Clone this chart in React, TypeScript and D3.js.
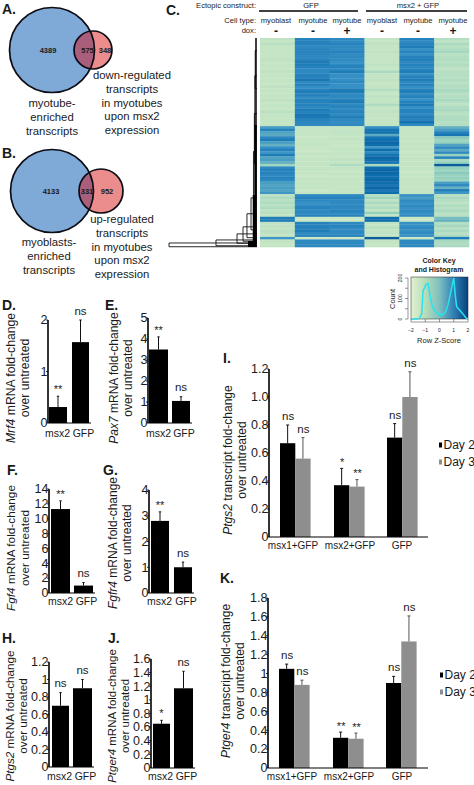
import React from "react";
import * as d3 from "d3";

const FONT = "'Liberation Sans', Arial, sans-serif";
const INK = "#1a1a1a";

// ---------- Venn data ----------
const vennA = { big: 4389, overlap: 575, small: 348 };
const vennB = { big: 4133, overlap: 331, small: 952 };
const vennALeft = ["myotube-", "enriched", "transcripts"];
const vennARight = ["down-regulated", "transcripts", "in myotubes", "upon msx2", "expression"];
const vennBLeft = ["myoblasts-", "enriched", "transcripts"];
const vennBRight = ["up-regulated", "transcripts", "in myotubes", "upon msx2", "expression"];

// ---------- Heatmap data ----------
const cellTypes = ["myoblast", "myotube", "myotube", "myoblast", "myotube", "myotube"];
const doxLabels = ["-", "-", "+", "-", "-", "+"];
const heatRows: number[][] = [
  // block 1
  [-0.8, 1.2, 1.1, -0.9, 1.2, -0.6], [-0.9, 1.2, 1.1, -0.9, 1.1, -0.8], [-0.7, 1.2, 1.2, -0.8, 1.2, -0.4],
  [-0.9, 1.1, 1.1, -0.9, 1.3, -0.7], [-0.9, 1.2, 1.1, -0.9, 1.0, -0.5], [-0.9, 1.2, 1.2, -0.8, 1.2, -0.3],
  [-0.9, 1.2, 1.1, -0.9, 1.0, -0.7], [-0.9, 1.1, 1.1, -0.9, 1.2, -0.6], [-0.8, 1.2, 1.1, -0.9, 1.3, -0.5],
  [-0.9, 1.3, 1.0, -0.9, 1.1, -0.7], [-0.9, 1.3, 1.1, -0.8, 1.2, -0.5], [-0.9, 1.2, 1.2, -0.9, 1.1, -0.7],
  [-0.9, 1.1, 1.1, -0.9, 1.2, -0.8], [-0.8, 1.1, 1.3, -0.4, 1.3, -0.6], [-0.9, 1.2, 1.0, -0.9, 1.0, -0.6],
  [-0.9, 1.2, 1.0, -0.9, 1.2, -0.7], [-0.9, 1.4, 1.0, -0.8, 1.3, -0.5], [-0.9, 1.1, 1.1, -0.9, 1.1, -0.7],
  [-0.9, 1.2, 1.0, -0.9, 1.2, -0.6], [-0.8, 1.0, 1.0, -0.9, 1.0, -0.6], [-0.9, 1.2, 1.3, -0.6, 1.2, -0.4],
  [-0.9, 1.3, 1.3, -0.9, 1.3, -0.5], [-0.9, 1.2, 1.1, -0.9, 1.1, -0.7], [-0.9, 1.1, 1.1, -0.8, 1.2, -0.6],
  [-0.8, 1.2, 1.2, -0.9, 1.0, -0.4], [-0.9, 1.2, 1.3, -0.9, 1.2, -0.6], [-0.9, 1.2, 1.1, -0.5, 1.3, -0.8],
  [-0.9, 1.1, 1.2, -0.9, 1.0, -0.5], [-0.9, 1.3, 1.1, -0.9, 1.2, -0.4], [-0.7, 1.2, 1.2, -0.8, 1.2, -0.6],
  [-0.9, 1.4, 1.1, -0.9, 1.1, -0.7], [-0.9, 1.4, 1.3, -0.9, 1.3, -0.5], [-0.9, 1.2, 1.1, -0.9, 1.2, -0.5],
  [-0.9, 1.2, 1.1, -0.9, 1.5, -0.6], [-0.9, 1.1, 1.1, -0.9, 1.1, -0.6],
  // block 2
  [0.8, -0.9, -0.9, 1.0, -0.9, 0.5], [1.2, -0.9, -0.9, 1.4, -0.9, 0.8], [0.7, -0.9, -0.8, 1.5, -0.9, 1.2],
  [0.6, -0.9, -0.9, 0.6, -0.9, 1.4], [1.1, -1.0, -0.9, 1.4, -0.9, 0.1], [1.3, -0.9, -0.9, 1.5, -0.9, -0.2],
  [0.8, -0.9, -0.9, 1.6, -0.9, 0.0], [0.5, -0.9, -1.0, 1.5, -0.9, 0.7], [1.0, -0.9, -0.9, 0.9, -0.9, 1.1],
  [1.2, -1.0, -0.9, 1.5, -0.9, 0.6], [0.9, -0.9, -0.9, 1.1, -1.0, 1.1], [1.3, -0.9, -0.9, 1.4, -0.9, -0.1],
  [0.7, -0.9, -0.9, 1.6, -0.9, 1.2], [0.8, -0.9, -0.8, 1.5, -0.9, -0.4], [0.5, -0.9, -0.9, 1.4, -0.9, 0.0],
  [-0.2, -0.9, -0.5, -0.4, -0.9, 1.7], [1.1, -0.9, -0.9, 1.5, -0.9, 0.0], [1.2, -0.9, -0.9, 1.6, -0.9, -0.2],
  [1.2, -0.9, -0.9, 1.6, -1.0, 0.1], [1.1, -1.0, -0.9, 1.5, -0.9, -0.1], [1.2, -0.9, -0.9, 1.5, -0.9, 0.0],
  [1.1, -0.9, -0.9, 1.6, -0.9, -0.2], [0.8, -0.9, -0.9, 1.5, -0.9, 0.8], [0.7, -0.9, -0.9, 1.4, -0.9, 1.1],
  [0.8, -0.9, -0.9, 1.6, -0.9, 0.5], [0.7, -1.0, -0.9, 1.4, -0.9, 1.3], [0.9, -0.9, -0.9, 1.5, -0.9, 0.9],
  // block 3
  [-0.8, 1.1, 1.1, -0.7, 1.0, -0.7], [-0.5, 1.2, 1.2, -0.2, 0.8, -0.4], [-0.7, 1.1, 1.1, -0.8, 1.1, -0.6],
  [-0.5, 1.0, 1.1, -0.4, 1.0, -0.8], [-0.7, 1.1, 1.1, -0.8, 1.1, -0.5], [-0.5, 1.2, 1.1, -0.5, 1.0, -0.7],
  [-0.8, 1.1, 1.2, -0.9, 1.1, -0.4], [-0.7, 1.1, 1.1, 0.0, 1.0, -0.7], [-0.9, 1.2, 1.2, -0.9, 1.1, -0.7],
  // block 4
  [1.3, -1.0, -1.0, 1.5, -1.0, 0.3], [1.3, -1.0, -1.0, 1.5, -1.0, 0.5],
  // block 5
  [-0.8, 1.2, 1.1, -0.8, 1.0, -0.6], [-0.8, 1.2, 1.2, -0.9, 1.0, -0.3], [-0.9, 1.2, 1.1, -0.7, 1.1, -0.7],
  [-0.7, 1.3, 1.1, -0.9, 1.0, -0.4], [-0.8, 1.1, 1.1, -0.8, 1.1, -0.7], [-0.9, 1.2, 1.2, -0.9, 1.0, -0.4],
  // block 6
  [0.9, -1.0, -1.0, 1.7, -1.0, 1.3],
  // block 7
  [-0.9, 1.1, 1.1, -0.9, 1.1, -0.4], [-0.9, 1.1, 1.1, -0.9, 1.1, -0.5], [-0.9, 1.1, 1.1, -0.9, 1.1, -0.4],
];
const heatStops = [-2, -1, 0, 1, 1.5, 2];
const heatColors = ["#e4f3d6", "#c9e7c5", "#93d0bd", "#3590c5", "#0f6eae", "#07457f"];

// Dendrogram merges: height (0 = leaves, 1 = root), top row, bottom row (row index units)
const dendroHeights = [1, 0.466, 0.227, 0.159, 0.114, 0.068, 0.04, 0.03, 0.025, 0.02];
const dendroTops = [81.4, 80.2, 77.8, 75, 69.8, 63.5, 45, 30, 15, 5];
const dendroBottoms = [82.9, 82.5, 81.5, 80.7, 79.3, 76.2, 66, 50, 35, 20];

// Color key histogram
const histZ = [-2, -1.6, -1.4, -1.25, -1.15, -1.05, -0.95, -0.8, -0.65, -0.5, -0.25, 0, 0.2, 0.4, 0.6, 0.78, 0.9, 1, 1.1, 1.2, 1.5, 1.7, 1.85, 2];
const histCount = [0, 0, 3, 25, 140, 150, 170, 172, 110, 60, 32, 20, 22, 30, 70, 127, 170, 200, 120, 60, 37, 20, 5, 0];
const keyStops = ["#e1f1d0", "#b7dcb8", "#7dbfc0", "#2f7fb5", "#06427f"];

// ---------- Small bars ----------
const smallCats = ["msx2", "GFP"];
const mrf4 = [0.31, 1.57];
const mrf4Err = [0.52, 2.0];
const pax7 = [3.5, 1.05];
const pax7Err = [4.1, 1.25];
const fgf4 = [11.3, 1.0];
const fgf4Err = [12.4, 1.4];
const fgfr4 = [2.8, 1.0];
const fgfr4Err = [3.15, 1.2];
const ptgs2Small = [0.7, 0.9];
const ptgs2SmallErr = [0.85, 1.0];
const ptger4Small = [0.65, 1.17];
const ptger4SmallErr = [0.7, 1.42];

// ---------- Grouped bars ----------
const groupCats = ["msx1+GFP", "msx2+GFP", "GFP"];
const legendDays = ["Day 29", "Day 36"];
const ptgs2D29 = [0.67, 0.37, 0.71];
const ptgs2D29Err = [0.8, 0.49, 0.81];
const ptgs2D36 = [0.56, 0.36, 1.0];
const ptgs2D36Err = [0.71, 0.41, 1.18];
const ptger4D29 = [1.05, 0.32, 0.9];
const ptger4D29Err = [1.1, 0.38, 0.97];
const ptger4D36 = [0.88, 0.31, 1.34];
const ptger4D36Err = [0.93, 0.37, 1.61];

function Txt(p: any) {
  const { size = 11.5, anchor = "middle", weight, children, x, y, fill = INK, rotate, style } = p;
  return (
    <text
      x={x}
      y={y}
      fontSize={size}
      textAnchor={anchor}
      fontWeight={weight}
      fill={fill}
      fontFamily={FONT}
      transform={rotate ? `rotate(${rotate} ${x} ${y})` : undefined}
      style={style}
    >
      {children}
    </text>
  );
}

function Venn(p: any) {
  const { id, cx1, r1, cx2, r2, cy, values, nx } = p;
  return (
    <g>
      <defs>
        <clipPath id={id}>
          <circle cx={cx1} cy={cy} r={r1} />
        </clipPath>
      </defs>
      <circle cx={cx1} cy={cy} r={r1} fill="#7fa9d6" />
      <circle cx={cx2} cy={cy} r={r2} fill="#ec8d8d" />
      <circle cx={cx2} cy={cy} r={r2} fill="#a95f7c" clipPath={`url(#${id})`} />
      <circle cx={cx1} cy={cy} r={r1} fill="none" stroke="#0c0c14" strokeWidth={1.7} />
      <circle cx={cx2} cy={cy} r={r2} fill="none" stroke="#0c0c14" strokeWidth={1.7} />
      <Txt x={nx[0]} y={cy + 2.5} size={7.5} weight="bold">{values.big}</Txt>
      <Txt x={nx[1]} y={cy + 2.5} size={7.5} weight="bold">{values.overlap}</Txt>
      <Txt x={nx[2]} y={cy + 2.5} size={7.5} weight="bold">{values.small}</Txt>
    </g>
  );
}

function Lines(p: any) {
  const { lines, x, y, step = 13.8, size = 11.3 } = p;
  return (
    <g>
      {lines.map((l: string, i: number) => (
        <Txt key={i} x={x} y={y + i * step} size={size}>{l}</Txt>
      ))}
    </g>
  );
}

function Heatmap() {
  const x = d3.scaleBand<number>().domain(d3.range(6)).range([260, 469]);
  const y = d3.scaleBand<number>().domain(d3.range(heatRows.length)).range([38, 247]);
  const color = d3.scaleLinear<string>().domain(heatStops).range(heatColors).clamp(true);
  const dy = d3.scaleLinear().domain([0, heatRows.length]).range([38, 247]);
  const dx = d3.scaleLinear().domain([0, 1]).range([257, 169]);
  const h = y.bandwidth();
  const path = d3.path();
  dendroHeights.forEach((v, i) => {
    const top = dy(dendroTops[i]);
    const bot = dy(dendroBottoms[i]);
    const xx = dx(v);
    path.moveTo(257, top);
    path.lineTo(xx, top);
    path.lineTo(xx, bot);
    path.lineTo(257, bot);
  });
  const centers = [276, 313, 347, 382, 418, 453];
  return (
    <g>
      <g style={{ filter: "blur(0.45px)" }}>
        {heatRows.map((row, r) =>
          row.map((v, c) => (
            <rect key={`${r}-${c}`} x={x(c)} y={y(r)} width={x.bandwidth() + 0.3} height={h + 0.3} fill={color(v)} />
          ))
        )}
      </g>
      <path d={path.toString()} fill="none" stroke="#111" strokeWidth={0.9} />
      <line x1={256} x2={256} y1={38} y2={247} stroke="#000" strokeWidth={1.5} />
      <line x1={255.5} x2={255.5} y1={125} y2={247} stroke="#000" strokeWidth={2.5} />
      <line x1={254} x2={254} y1={195} y2={247} stroke="#000" strokeWidth={2.5} />
      <rect x={248} y={241} width={8} height={6} fill="#000" />

      <Txt x={256} y={8} size={7.6} anchor="end">Ectopic construct:</Txt>
      <Txt x={256} y={23} size={7.6} anchor="end">Cell type:</Txt>
      <Txt x={256} y={33} size={7.6} anchor="end">dox:</Txt>
      <line x1={259} x2={358} y1={11} y2={11} stroke="#000" strokeWidth={1.6} />
      <line x1={366} x2={467} y1={11} y2={11} stroke="#000" strokeWidth={1.6} />
      <Txt x={311} y={8} size={7.6}>GFP</Txt>
      <Txt x={418} y={8} size={7.6}>msx2 + GFP</Txt>
      {cellTypes.map((c, i) => (
        <Txt key={i} x={centers[i]} y={23} size={7.6}>{c}</Txt>
      ))}
      {doxLabels.map((c, i) => (
        <Txt key={i} x={centers[i]} y={35} size={12} weight="bold">{c}</Txt>
      ))}
    </g>
  );
}

function ColorKey() {
  const x = d3.scaleLinear().domain([-2, 2]).range([411, 468]);
  const y = d3.scaleLinear().domain([0, 200]).range([319, 278]);
  const line = d3.line<number>().x((d) => x(d)).y((_, i) => y(histCount[i]));
  return (
    <g>
      <defs>
        <linearGradient id="keyGrad">
          {keyStops.map((c, i) => (
            <stop key={i} offset={`${(i / (keyStops.length - 1)) * 100}%`} stopColor={c} />
          ))}
        </linearGradient>
      </defs>
      <Txt x={439} y={262.5} size={7} weight="bold">Color Key</Txt>
      <Txt x={439} y={271.5} size={7} weight="bold">and Histogram</Txt>
      <rect x={411} y={277} width={57} height={42} fill="url(#keyGrad)" stroke="#222" strokeWidth={0.5} />
      <path d={line(histZ) || ""} fill="none" stroke="#27e3ee" strokeWidth={1.5} />
      <line x1={411} x2={468} y1={322} y2={322} stroke="#333" strokeWidth={0.5} />
      {x.ticks(4).map((t) => (
        <g key={t}>
          <line x1={x(t)} x2={x(t)} y1={319} y2={322} stroke="#333" strokeWidth={0.5} />
          <Txt x={x(t)} y={332} size={5}>{t === 0 ? "0" : String(t).replace("-", "\u2212")}</Txt>
        </g>
      ))}
      <line x1={408} x2={408} y1={278} y2={319} stroke="#333" strokeWidth={0.5} />
      {[0, 50, 100, 150, 200].map((t) => (
        <line key={t} x1={405} x2={408} y1={y(t)} y2={y(t)} stroke="#333" strokeWidth={0.5} />
      ))}
      {[0, 100, 200].map((t) => (
        <Txt key={t} x={402} y={y(t)} size={5} rotate={-90}>{t}</Txt>
      ))}
      <Txt x={395} y={299} size={7.5} rotate={-90}>Count</Txt>
      <Txt x={439} y={343} size={7.5}>Row Z-Score</Txt>
    </g>
  );
}

function YTitle(p: any) {
  const { x1, x2, cy, gene, rest, size = 12 } = p;
  return (
    <g>
      <text transform={`translate(${x1} ${cy}) rotate(-90)`} textAnchor="middle" fontSize={size} fontFamily={FONT} fill={INK}>
        <tspan fontStyle="italic">{gene}</tspan> {rest}
      </text>
      <text transform={`translate(${x2} ${cy}) rotate(-90)`} textAnchor="middle" fontSize={size} fontFamily={FONT} fill={INK}>
        over untreated
      </text>
    </g>
  );
}

function SmallBar(p: any) {
  const { letter, lx, ly, ax, top, bottom, max, ticks, tickFmt, vals, errs, sig, bars, title, labelY } = p;
  const y = d3.scaleLinear().domain([0, max]).range([bottom, top]);
  const fmt = tickFmt || String;
  return (
    <g>
      <Txt x={lx} y={ly} size={14} weight="bold" anchor="start">{letter}</Txt>
      <YTitle {...title} />
      {vals.map((v: number, i: number) => {
        const [x0, x1] = bars[i];
        const mid = (x0 + x1) / 2;
        return (
          <g key={i}>
            <rect x={x0} y={y(v)} width={x1 - x0} height={bottom - y(v)} fill="#000" />
            <line x1={mid} x2={mid} y1={y(v)} y2={y(errs[i])} stroke="#111" strokeWidth={1} />
            <line x1={mid - 1.2} x2={mid + 1.2} y1={y(errs[i])} y2={y(errs[i])} stroke="#111" strokeWidth={1} />
            <Txt x={mid} y={sig[i].includes("*") ? y(errs[i]) - 3 : y(errs[i]) - 5.5} size={sig[i].includes("*") ? 11 : 11.5}>{sig[i]}</Txt>
            <Txt x={i === 0 ? x1 - 9.5 : mid + 3} y={labelY} size={10.5}>{smallCats[i]}</Txt>
          </g>
        );
      })}
      <line x1={ax} x2={ax} y1={top} y2={bottom} stroke="#000" strokeWidth={1.6} />
      <line x1={ax} x2={bars[1][1] + 2} y1={bottom} y2={bottom} stroke="#000" strokeWidth={1.2} />
      {ticks.map((t: number) => (
        <g key={t}>
          <line x1={ax - 2} x2={ax} y1={y(t)} y2={y(t)} stroke="#000" strokeWidth={0.8} />
          <Txt x={ax - 0.5} y={y(t) + 4.3} size={12.5} anchor="end">{fmt(t)}</Txt>
        </g>
      ))}
    </g>
  );
}

function GroupBar(p: any) {
  const { letter, lx, ly, ax, top, bottom, max, ticks, tickFmt, d29, d29e, d36, d36e, sig29, sig36, title, labelY, legendY, lgx, starts, labelX } = p;
  const y = d3.scaleLinear().domain([0, max]).range([bottom, top]);
  const x = d3.scaleBand<number>().domain([0, 1]).range([0, 30.6]);
  const w = x.bandwidth();
  const bar = (v: number, e: number, s: string, sx: number, color: string, key: string) => (
    <g key={key}>
      <rect x={sx} y={y(v)} width={w} height={bottom - y(v)} fill={color} />
      <line x1={sx + w / 2} x2={sx + w / 2} y1={y(v)} y2={y(e)} stroke={color === "#000" ? "#111" : "#555"} strokeWidth={1} />
      <line x1={sx + w / 2 - 1.5} x2={sx + w / 2 + 1.5} y1={y(e)} y2={y(e)} stroke={color === "#000" ? "#111" : "#555"} strokeWidth={1} />
      <Txt x={sx + w / 2 + 0.5} y={s.includes("*") ? y(e) - 2.5 : y(e) - 5} size={s.includes("*") ? 11 : 11.5}>{s}</Txt>
    </g>
  );
  return (
    <g>
      <Txt x={lx} y={ly} size={14} weight="bold" anchor="start">{letter}</Txt>
      <YTitle {...title} />
      {groupCats.map((c, i) => (
        <g key={c}>
          {bar(d29[i], d29e[i], sig29[i], starts[i] + (x(0) as number), "#000", "a")}
          {bar(d36[i], d36e[i], sig36[i], starts[i] + (x(1) as number), "#8e8e8e", "b")}
          <Txt x={labelX[i]} y={labelY} size={10}>{c}</Txt>
        </g>
      ))}
      <line x1={ax} x2={ax} y1={top} y2={bottom} stroke="#000" strokeWidth={1.6} />
      <line x1={ax} x2={428} y1={bottom} y2={bottom} stroke="#000" strokeWidth={1.2} />
      {ticks.map((t: number) => (
        <g key={t}>
          <line x1={ax - 2} x2={ax} y1={y(t)} y2={y(t)} stroke="#000" strokeWidth={0.8} />
          <Txt x={ax - 0.5} y={y(t) + 4.3} size={12.5} anchor="end">{tickFmt(t)}</Txt>
        </g>
      ))}
      {legendDays.map((d, i) => (
        <g key={d}>
          <rect x={lgx} y={legendY[i] - 2.5} width={3} height={5} fill={i === 0 ? "#000" : "#8e8e8e"} />
          <Txt x={lgx + 4.5} y={legendY[i] + 4.3} size={12} anchor="start">{d}</Txt>
        </g>
      ))}
    </g>
  );
}

const oneDec = (t: number) => (t === 0 ? "0" : t.toFixed(1));
const trim = (t: number) => String(+t.toFixed(1));

export default function App() {
  return (
    <svg width={474} height={785} viewBox="0 0 474 785" style={{ position: "absolute", left: 0, top: 0, background: "#fff" }}>
      <Txt x={2} y={14} size={14} weight="bold" anchor="start">A.</Txt>
      <Venn id="ca" cx1={52} r1={42.5} cx2={93} r2={19} cy={50} values={vennA} nx={[48, 87.5, 105]} />
      <Lines lines={vennALeft} x={52} y={107} />
      <Lines lines={vennARight} x={132} y={79} />

      <Txt x={2} y={158} size={14} weight="bold" anchor="start">B.</Txt>
      <Venn id="cb" cx1={52} r1={41.5} cx2={101} r2={22} cy={191} values={vennB} nx={[51, 87, 107]} />
      <Lines lines={vennBLeft} x={49} y={246} />
      <Lines lines={vennBRight} x={122} y={223} />

      <Txt x={166} y={15} size={14} weight="bold" anchor="start">C.</Txt>
      <Heatmap />
      <ColorKey />

      <SmallBar letter="D." lx={2} ly={310} ax={48} top={320} bottom={423} max={2} ticks={[0, 1, 2]} vals={mrf4} errs={mrf4Err} sig={["**", "ns"]}
        bars={[[49, 67], [72, 89]]} labelY={437} title={{ x1: 15, x2: 29, cy: 378, gene: "Mrf4", rest: "mRNA fold-change", size: 12.2 }} />
      <SmallBar letter="E." lx={105} ly={310} ax={148} top={318} bottom={423} max={5} ticks={[0, 1, 2, 3, 4, 5]} vals={pax7} errs={pax7Err} sig={["**", "ns"]}
        bars={[[149, 168], [172, 190]]} labelY={437} title={{ x1: 118, x2: 132, cy: 378, gene: "Pax7", rest: "mRNA fold-change" }} />
      <SmallBar letter="F." lx={7} ly={475} ax={49} top={489} bottom={593} max={14} ticks={[0, 2, 4, 6, 8, 10, 12, 14]} vals={fgf4} errs={fgf4Err} sig={["**", "ns"]}
        bars={[[51, 70], [74, 93]]} labelY={605} title={{ x1: 15, x2: 29, cy: 548, gene: "Fgf4", rest: "mRNA fold-change", size: 11.8 }} />
      <SmallBar letter="G." lx={103} ly={475} ax={149} top={490} bottom={593} max={4} ticks={[0, 1, 2, 3, 4]} vals={fgfr4} errs={fgfr4Err} sig={["**", "ns"]}
        bars={[[151, 169], [174, 192]]} labelY={605} title={{ x1: 117, x2: 131, cy: 543, gene: "Fgfr4", rest: "mRNA fold-change" }} />
      <SmallBar letter="H." lx={2} ly={643} ax={49} top={662} bottom={767} max={1.2} ticks={[0, 0.2, 0.4, 0.6, 0.8, 1, 1.2]} tickFmt={trim} vals={ptgs2Small} errs={ptgs2SmallErr} sig={["ns", "ns"]}
        bars={[[52, 69], [73, 92]]} labelY={780} title={{ x1: 14, x2: 27, cy: 716, gene: "Ptgs2", rest: "mRNA fold-change", size: 11.7 }} />
      <SmallBar letter="J." lx={108} ly={643} ax={151} top={659} bottom={768} max={1.6} ticks={[0, 0.2, 0.4, 0.6, 0.8, 1, 1.2, 1.4, 1.6]} tickFmt={trim} vals={ptger4Small} errs={ptger4SmallErr} sig={["*", "ns"]}
        bars={[[153, 170], [174, 193]]} labelY={780} title={{ x1: 116, x2: 129, cy: 716, gene: "Ptger4", rest: "mRNA fold-change", size: 11.5 }} />

      <GroupBar letter="I." lx={223} ly={363} ax={269} top={369} bottom={537} max={1.2} ticks={[0, 0.2, 0.4, 0.6, 0.8, 1, 1.2]} tickFmt={oneDec}
        d29={ptgs2D29} d29e={ptgs2D29Err} d36={ptgs2D36} d36e={ptgs2D36Err} sig29={["ns", "*", "ns"]} sig36={["ns", "**", "ns"]}
        starts={[280, 334, 387]} labelX={[293, 350, 402]} labelY={549} legendY={[445, 462]} lgx={439}
        title={{ x1: 232, x2: 246, cy: 460, gene: "Ptgs2", rest: "transcript fold-change", size: 12 }} />
      <GroupBar letter="K." lx={220} ly={583} ax={268} top={598} bottom={768} max={1.8} ticks={[0, 0.2, 0.4, 0.6, 0.8, 1, 1.2, 1.4, 1.6, 1.8]} tickFmt={trim}
        d29={ptger4D29} d29e={ptger4D29Err} d36={ptger4D36} d36e={ptger4D36Err} sig29={["ns", "**", "ns"]} sig36={["ns", "**", "ns"]}
        starts={[279, 333, 386]} labelX={[292, 349, 402]} labelY={780} legendY={[675, 692]} lgx={440}
        title={{ x1: 230, x2: 244, cy: 681, gene: "Ptger4", rest: "transcript fold-change", size: 12 }} />
    </svg>
  );
}
